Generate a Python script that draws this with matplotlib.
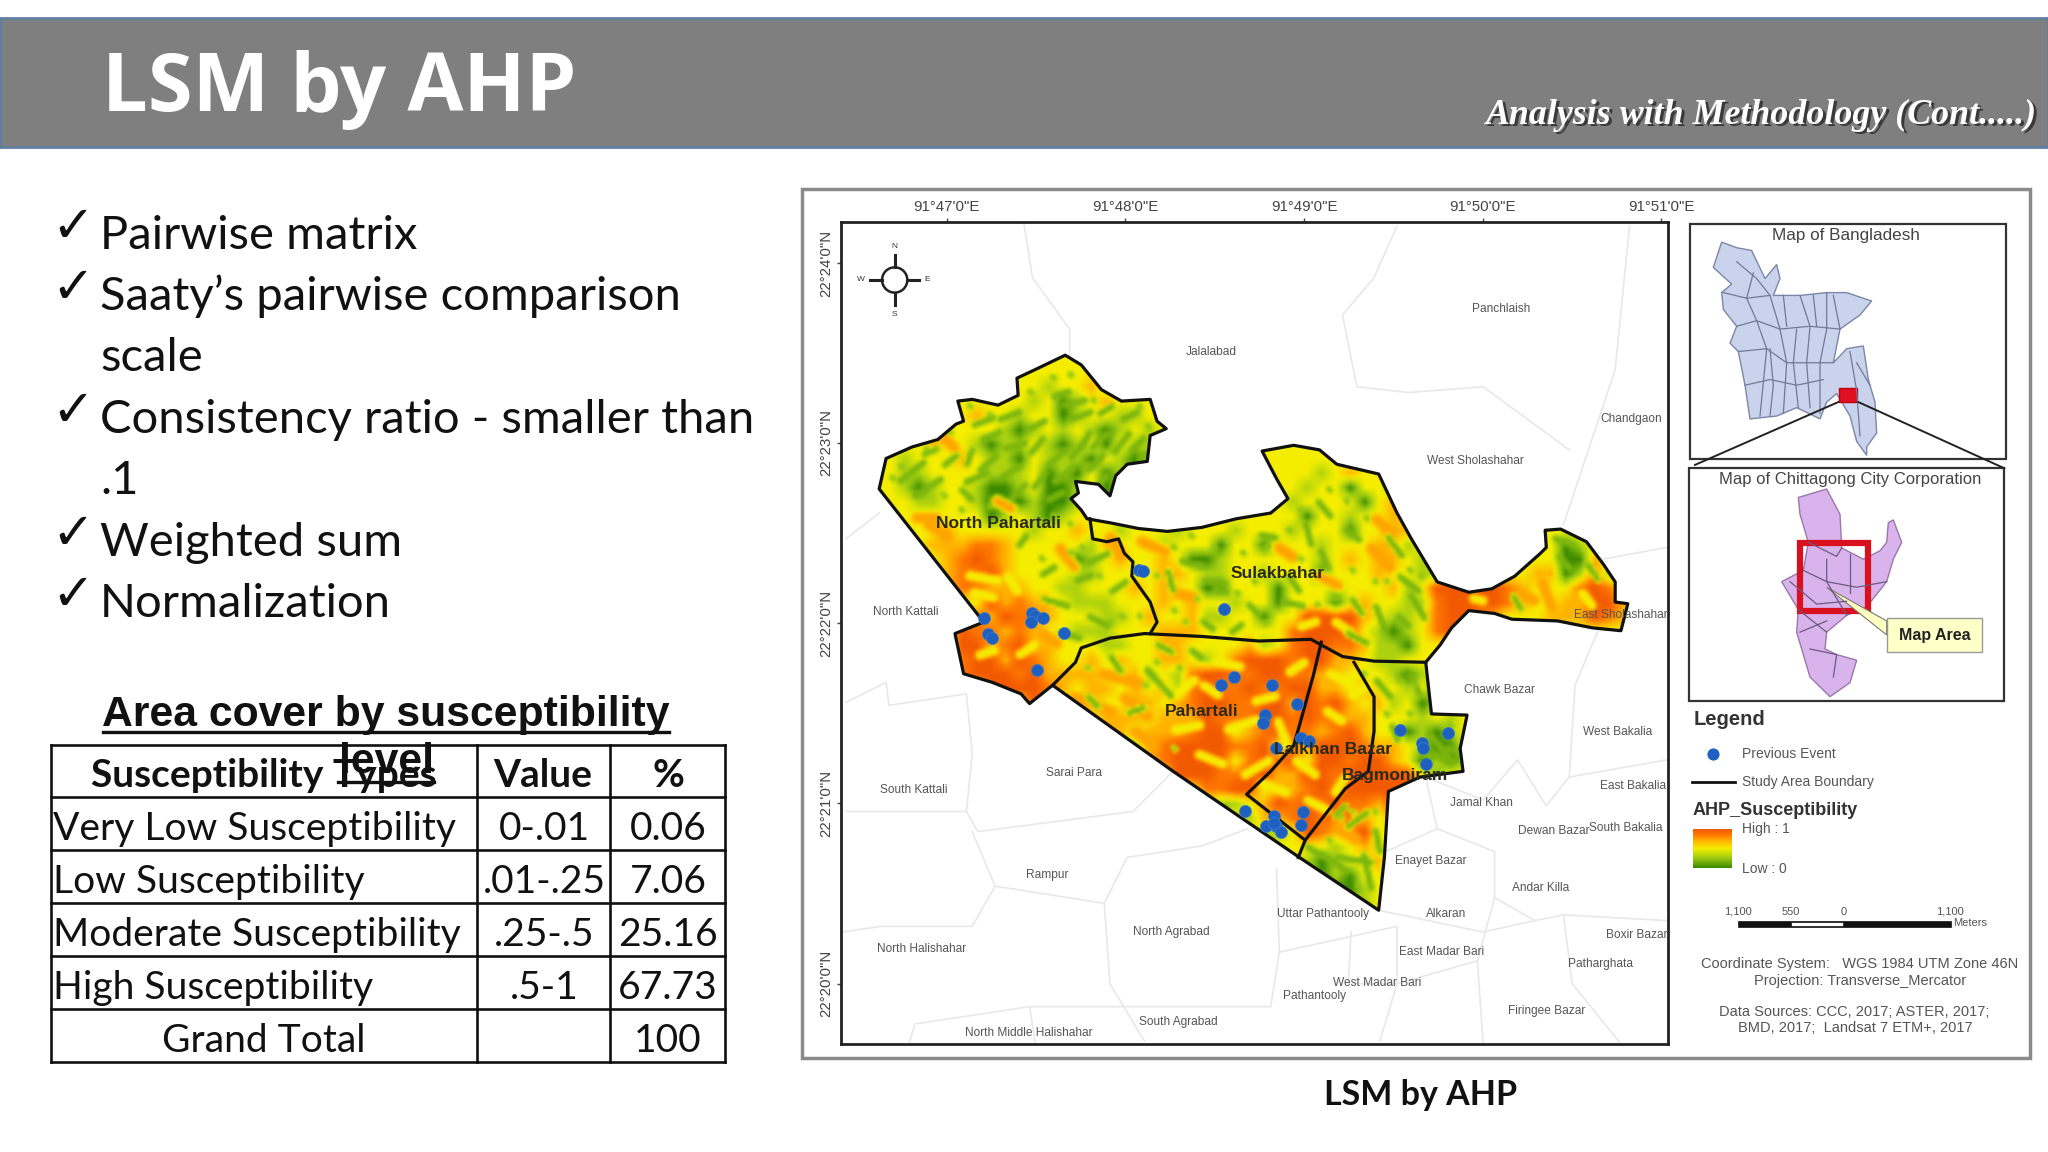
import numpy as np
import matplotlib
matplotlib.use("Agg")
import matplotlib.pyplot as plt
from matplotlib.patches import Polygon, Rectangle, Circle
from matplotlib.colors import LinearSegmentedColormap

W, H = 2048, 1152
bullets = ["Pairwise matrix", "Saaty\u2019s pairwise comparison", "scale",
           "Consistency ratio - smaller than", ".1", "Weighted sum", "Normalization"]
bullet_checked = [True, True, False, True, False, True, True]
bullet_baseline = [249, 310, 371, 433, 494, 556, 617]

table_head = ["Susceptibility Types", "Value", "%"]
table_types = ["Very Low Susceptibility", "Low Susceptibility", "Moderate Susceptibility",
               "High Susceptibility", "Grand Total"]
table_values = ["0-.01", ".01-.25", ".25-.5", ".5-1", ""]
table_pct = ["0.06", "7.06", "25.16", "67.73", "100"]
table_x = [50.5, 477, 610, 725]
table_y = [745, 797, 850, 903, 956, 1009, 1062]

lon_ticks = [256, 567, 878, 1189, 1500]
lon_labels = ['91\u00b047\'0"E', '91\u00b048\'0"E', '91\u00b049\'0"E', '91\u00b050\'0"E', '91\u00b051\'0"E']
lat_ticks = [145, 458, 772, 1086, 1400]
lat_labels = ['22\u00b024\'0"N', '22\u00b023\'0"N', '22\u00b022\'0"N', '22\u00b021\'0"N', '22\u00b020\'0"N']

boundary = [(138,538),(150,485),(195,465),(240,452),(272,425),(285,420),(275,385),(300,382),(345,392),(380,375),
            (378,345),(410,330),(462,305),(490,322),(525,365),(560,385),(610,382),(622,420),(638,433),(610,445),
            (605,490),(570,495),(550,515),(540,550),(520,530),(480,525),(485,545),(472,555),(490,575),(500,590),
            (540,597),(590,607),(640,612),(700,605),(760,590),(820,580),(850,555),(830,520),(805,472),(860,462),
            (905,470),(935,495),(1008,512),(1040,580),(1065,625),(1110,700),(1165,718),(1205,712),(1245,690),
            (1290,650),(1300,640),(1298,610),(1325,608),(1370,630),(1400,670),(1420,700),(1420,735),(1442,738),
            (1430,785),(1380,780),(1320,768),(1240,765),(1210,755),(1165,750),(1135,780),(1115,810),(1090,840),
            (1100,930),(1162,932),(1150,990),(1155,1030),(1080,1040),(1025,1065),(1018,1180),(1008,1272),(870,1180),
            (650,1030),(440,880),(400,912),(385,895),(335,875),(285,860),(270,790),(320,770)]
inner_lines = [
    [(505,590),(510,625),(535,630),(555,625),(565,650),(580,665),(578,690),(610,735),(622,770),(610,790)],
    [(440,880),(480,840),(490,815),(540,798),(600,790),(700,795),(800,803),(890,800),(945,830),(1000,838),(1090,840)],
    [(908,805),(895,860),(870,950),(860,985),(820,1030),(778,1070),(880,1150),(868,1180)],
    [(880,1150),(950,1060),(990,1030),(1000,960),(1000,900),(965,840)],
]
event_x = [320,328,335,405,410,403,424,460,413,590,597,738,733,756,822,866,810,807,872,887,830,775,826,812,830,838,876,872,1045,1083,1085,1090,1128,825]
event_y = [762,790,797,755,760,770,762,789,853,680,681,748,879,865,880,912,932,945,972,977,990,1099,1108,1126,1125,1135,1100,1124,958,980,990,1018,963,1120]

places = [("Panchlaish",1222,224),("Jalalabad",716,299),("Chandgaon",1448,416),("West Sholashahar",1177,489),
          ("North Kattali",185,752),("East Sholashahar",1430,758),("Chawk Bazar",1219,889),("West Bakalia",1424,962),
          ("Sarai Para",477,1033),("South Kattali",198,1062),("East Bakalia",1452,1056),("Jamal Khan",1187,1086),
          ("Dewan Bazar",1313,1134),("South Bakalia",1438,1128),("Enayet Bazar",1098,1186),("Rampur",431,1210),
          ("Andar Killa",1290,1233),("Uttar Pathantooly",911,1278),("Alkaran",1126,1279),("North Agrabad",646,1310),
          ("Boxir Bazar",1458,1315),("North Halishahar",211,1340),("East Madar Bari",1117,1345),("Patharghata",1394,1365),
          ("West Madar Bari",1005,1398),("Pathantooly",896,1421),("Firingee Bazar",1301,1447),("South Agrabad",659,1467),
          ("North Middle Halishahar",398,1486)]
wards = [("North Pahartali",346,598),("Sulakbahar",832,685),("Pahartali",700,926),("Lalkhan Bazar",928,992),("Bagmoniram",1037,1038)]

roads = [
    [(390,75),(405,170),(470,260),(470,305)], [(80,625),(138,580)], [(80,910),(150,875),(155,915),(290,895),(300,1000),(290,1100),(80,1100)],
    [(290,1100),(310,1135),(580,1100),(650,1030)], [(300,1135),(340,1230),(300,1300),(140,1300),(75,1310)],
    [(340,1230),(530,1260),(570,1180),(700,1160),(780,1130)], [(530,1260),(540,1400),(600,1500)],
    [(1040,80),(1000,170),(945,235),(970,360),(1060,370),(1190,360),(1340,470)], [(1445,80),(1420,330),(1330,600)],
    [(1510,640),(1400,660)], [(1390,785),(1350,880),(1340,1040),(1300,1090),(1250,1010),(1190,1080),(1090,1040)],
    [(1340,1040),(1510,1010)], [(1090,1040),(1110,1130),(1210,1170),(1210,1250),(1280,1290),(1330,1280),(1510,1290)],
    [(1020,1170),(1110,1130)], [(1008,1272),(1190,1310),(1280,1290)], [(830,1200),(835,1345),(1040,1300),(1040,1400),(1010,1500)],
    [(835,1345),(820,1440),(400,1440),(200,1470),(190,1505)], [(960,1310),(955,1400),(1040,1400),(1180,1360),(1190,1505)],
    [(1330,1280),(1345,1400),(1430,1505)], [(1210,1250),(1180,1360)], [(400,1440),(410,1505)],
]

raster_x0, raster_y0, raster_step = 120, 300, 25
raster_rows = [
 "yyyyyyyyyy yyyyyy", "yyyyyyyyyy yyyyyyoy", "yyyyyyyyyy yygyyogyyy", "yyyyyyyyyy ygyGgyoyyy yy",
 "yyyyyyyoyy gyyGgyyggy yogy", "yyyyyyyyyg GgygygGgyg yyGy", "yyyyoyygGg gygGgyGygg gyyy",
 "yygyyyoygg GygggGygGg GgyGyyyyyy y", "yyggyyyygg gyGgGyGgGg yGGyyyyyyy ygyoyy",
 "yygGgyygGG gyGGgyGgGg yyyyyyyyyy gyyGyygyy", "yyyggyygGG GgGGgyGgyy yyyyyyyyyg yyyyGyoyy",
 "yyyyyyyyGg ygGgyyyygy yyyyyyyyyy GyygyyoyoY".replace("Y","y"),
 "yyyyyoyyyy ygyyoyygyy ygyyygyyyg yyyGyyooyy yyyyyyyyyy yyyy",
 "yyyyooorro yyyyygoyyy gyyyGyyGyy ygyyyoogyg yyyyyyyyGg yyyy",
 "yyyyyorRro yyyyGgyoyy oyGGgyyyyy ygyoyooygg yyyyyyyyGG oyyy",
 "yyyyyorrRo yyyyggyyyy ooyggyygyy yGyyyoyygg yyyyyyooGg rgyy",
 "yyyyyorroo oyyggyyyoy oyyGGyyyGy yygyyyogyR RRRRroyyyr Rryy",
 "yyyyyoyyRo rooygggyyy oyoyygyyGy yyGyoyyggr RRRRroyyoo RRoy",
 "yyyyyyyroR rroyyyggyo yyoggyyGyy RRRRoyggyr RRroyyyooo Rroy",
 "yyyyyyRrro royygggyyy oooyyyyyyr RRRRygGgyr Rooyyyyyyy yyyy",
 "yyyyyyRRor Rooyyyggyy ooyyyyogyr RRrroggGyy yyyyyyyyyy yyyy",
 "yyyyyyrRRo Rroyyoyoyy ooygyrRRRr RRooyggyyy yyyyyyyyyy yyyy",
 "yyyyyyrRRR rRooooyyog ygrRRrrRRr rooyyygGgy yyyyyyyyyy yyyy",
 "yyyyyyyyRR RRroyooyoy ogrRrrRrrR RooyoyygyG yyyyyyyyyy yyyy",
 "yyyyyyyyyy yRoyooyyoo yorRRrrRRo RrRoyogyGg yyyyyyyyyy yyyy",
 "yyyyyyyyyy yyyoyyoooy oooRrrrRRr RrrooyyygY gyyyyyyyyy yyyy".replace("Y","y"),
 "yyyyyyyyyy yyyyyoooyo oorRRyorRr rorRoyyGgG gyyyyyyyyy yyyy",
 "yyyyyyyyyy yyyyygoogo rRRRRrrRyr oRRRrooygG Gyyyyyyyyy yyyy",
 "yyyyyyyyyy yyyyyyyyyo rRRRRyrRrR yRRrRRoyGg Ggyyyyyyyy yyyy",
 "yyyyyyyyyy yyyyyyyyyy yRRRrrRRoo RRrRRRRRyg yyyyyyyyyy yyyy",
 "yyyyyyyyyy yyyyyyyyyy yyyrrRRyoo rRrRRRRRyy yyyyyyyyyy yyyy",
 "yyyyyyyyyy yyyyyyyyyy yyyyggyoRr RrRrroRRRy yyyyyyyyyy yyyy",
 "yyyyyyyyyy yyyyyyyyyy yyyyyygoor RrRroyoygy yyyyyyyyyy yyyy",
 "yyyyyyyyyy yyyyyyyyyy yyyyyyyggy RrorRyyGoy yyyyyyyyyy yyyy",
 "yyyyyyyyyy yyyyyyyyyy yyyyyyyyyy yygyoyyGyy yyyyyyyyyy yyyy",
 "yyyyyyyyyy yyyyyyyyyy yyyyyyyyyy gGgyyoGyyy yyyyyyyyyy yyyy",
 "yyyyyyyyyy yyyyyyyyyy yyyyyyyyyy yGgGyyGyyy yyyyyyyyyy yyyy",
 "yyyyyyyyyy yyyyyyyyyy yyyyyyyyyy yyGGgyGyyy yyyyyyyyyy yyyy",
 "yyyyyyyyyy yyyyyyyyyy yyyyyyyyyy yyyygyGyyy yyyyyyyyyy yyyy",
 "yyyyyyyyyy yyyyyyyyyy yyyyyyyyyy yyyyyyyyyy yyyyyyyyyy yyyy",
]
raster_levels = {"G": 0.0, "g": 0.3, "y": 0.5, "o": 0.7, "r": 0.86, "R": 1.0}

green_strokes = [(300,430,340,415),(315,455,350,440),(345,420,385,405),(390,440,430,420),(440,380,470,370),(455,395,500,385),
 (470,420,510,405),(520,410,545,395),(560,420,590,405),(290,500,300,470),(310,510,345,480),(355,470,395,460),(400,480,425,450),
 (430,500,465,470),(470,490,500,450),(505,470,540,440),(545,480,575,440),(575,475,600,450),(590,490,605,478),(170,530,220,490),
 (195,555,250,520),(215,480,240,470),(250,500,275,480),(285,530,330,510),(280,540,300,560),(350,520,385,500),(365,560,395,530),
 (405,540,430,510),(440,530,480,500),(430,560,460,545),(500,510,530,480),(515,540,535,515),(490,470,505,440),
 (660,665,705,675),(700,700,745,705),(720,715,745,720),(800,620,830,625),(900,560,925,590),(950,610,975,630),(905,645,920,680),
 (850,690,870,720),(780,740,800,760),(835,735,880,745),(750,790,770,775),(640,680,650,720),(960,730,980,760),(1020,620,1050,660),
 (1040,690,1080,720),(1060,720,1090,770),(1000,740,1020,790),(950,790,990,810),(880,600,890,640),(1040,760,1060,780),(700,770,720,785),
 (420,730,470,745),(500,670,540,650),(480,700,510,690),(380,640,395,620),(540,720,570,700),(500,760,540,780),(450,790,490,800),(420,690,445,675),
 (540,830,560,860),(680,820,700,835),(600,850,650,905),(570,930,600,920),(500,900,520,920),(620,810,650,825),
 (1075,1000,1130,1010),(1090,960,1140,1020),(1000,870,1030,905),(1060,860,1080,900),(1030,950,1040,980),(1125,990,1155,1000),
 (900,1170,960,1210),(950,1130,990,1100),(980,1170,995,1240),(930,1180,1000,1190),(880,1160,910,1180),(1000,1130,1010,1175),(930,1110,950,1090),
 (1310,625,1350,640),(1320,655,1340,680),(1240,725,1255,750),(1370,670,1390,700)]
yellow_strokes = [(300,720,340,730),(290,690,350,700),(360,690,380,720),(310,830,340,820),(380,830,410,810),(650,900,690,870),(720,840,770,850),
 (740,960,800,940),(790,910,830,900),(770,1040,820,1010),(690,1000,740,1020),(860,1010,900,1040),(930,1070,950,1040),(880,1080,920,1100),
 (960,900,990,880),(920,860,960,880),(650,960,700,950),(850,860,880,840),(830,940,850,990),(915,925,945,945),(800,1050,850,1070),
 (700,880,730,900),(870,780,900,770),(930,770,960,790),(1170,730,1190,735),(1360,720,1380,745)]
orange_strokes = [(220,600,260,625),(200,590,240,590),(450,640,480,680),(420,790,450,810),(520,860,600,880),(470,900,550,930),(580,960,620,990),
 (560,900,610,940),(590,630,640,650),(650,720,690,730),(1000,590,1030,620),(990,640,1030,680),(900,690,940,710),(830,640,860,660),
 (240,440,270,470),(930,1120,970,1150),(1250,720,1280,735),(1290,700,1310,750),(340,560,370,575),(540,620,560,660)]
green_specks = [(650,640),(680,620),(720,640),(770,650),(810,640),(850,610),(870,575),(920,540),(950,560),(985,590),(960,680),(1000,700),
 (1020,700),(870,660),(790,700),(760,720),(690,730),(650,750),(620,690),(670,770),(810,770),(900,740),(930,730),(1060,680),(1080,690),(1090,640),
 (400,370),(440,345),(470,340),(510,385),(590,395),(605,430),(330,410),(295,395),(260,440),(220,470),(175,500),(160,520),(250,550),(280,575),
 (330,570),(440,585),(470,600),(490,640),(520,690),(470,650),(420,660),(560,760),(590,760),(540,770),(500,850),(620,840),(660,850),(600,880),
 (520,960),(650,990),(700,1070),(740,1090),(770,1130),(820,1150),(980,860),(1040,870),(1070,880),(1020,930),(1060,930),(1130,950),(1110,1030),
 (940,1110),(960,1100),(1000,1100),(890,1190),(920,1150),(970,1230)]

bangladesh = [(155,75),(200,85),(245,90),(285,140),(320,115),(330,140),(310,170),(390,170),(470,165),(530,165),(605,180),
              (570,205),(510,230),(490,290),(530,265),(580,260),(595,320),(615,360),(620,415),(590,440),(590,455),(560,430),
              (540,385),(500,345),(470,360),(450,390),(380,370),(320,385),(240,390),(225,330),(205,270),(180,255),(200,225),
              (160,195),(155,165),(185,150),(130,120)]
bd_lines = [[(160,165),(230,175),(300,170),(330,230),(420,225),(510,230)], [(200,225),(260,215),(330,230),(350,290),(490,290)],
            [(205,270),(290,265),(350,290),(340,380)], [(230,175),(260,215),(290,265),(270,385)], [(390,170),(420,225),(410,290),(420,370)],
            [(470,165),(470,230),(450,290),(450,380)], [(540,270),(560,340),(570,420)], [(200,110),(260,140),(300,170)],
            [(225,330),(300,320),(380,330),(460,320)], [(300,265),(310,330),(300,385)], [(380,230),(370,290),(385,370)],
            [(250,130),(230,175)], [(340,170),(350,225)], [(430,170),(440,225)], [(490,170),(510,230)], [(560,290),(600,330)]]
chittagong = [(385,530),(470,515),(510,560),(515,620),(580,640),(630,625),(650,610),(655,575),(670,570),(695,610),(670,640),(650,680),
              (590,725),(530,740),(470,770),(465,800),(500,810),(560,820),(540,860),(480,885),(420,850),(380,770),(385,730),(335,680),
              (400,660),(415,610),(390,560)]
ctg_lines = [[(415,610),(500,635),(515,620)], [(400,660),(470,680),(560,690),(650,680)], [(470,640),(470,680),(530,740)],
             [(540,630),(540,700)], [(385,730),(470,770)], [(390,770),(470,750)], [(420,800),(500,810),(490,850)], [(360,680),(440,720),(530,715)]]
scale_labels = [("1,100",205),("550",363),("0",520),("1,100",840)]

MAIN = "Lato"
ARIAL = "Liberation Sans"

fig = plt.figure(figsize=(W/100, H/100), dpi=100, facecolor="white")
s = fig.add_axes([0, 0, 1, 1]); s.set_xlim(0, W); s.set_ylim(H, 0); s.axis("off")

# header
s.add_patch(Rectangle((0, 18), W, 129, fc="#7f7f7f", ec="#5f7f9f", lw=2))
s.text(102, 111, "LSM by AHP", color="white", fontsize=58.5, fontweight="bold", family="Open Sans", va="baseline")
for dx, col in [(2.5, "#3a3a3a"), (0, "white")]:
    s.text(2037+dx, 124+dx, "Analysis with Methodology (Cont.....)", color=col, fontsize=25.8, style="italic", fontweight="bold",
           family="Liberation Serif", ha="right", va="baseline")

# bullets
for t, c, b in zip(bullets, bullet_checked, bullet_baseline):
    s.text(100, b, t, fontsize=33.9, family=MAIN, va="baseline", color="#111")
    if c:
        s.text(51, b-7, "\u2713", fontsize=37, family="DejaVu Sans", va="baseline", color="#111")

# table
s.text(386, 726, "Area cover by susceptibility", fontsize=30.8, fontweight="bold", family=ARIAL, ha="center", va="baseline", color="#111")
s.plot([103, 669], [732, 732], color="#111", lw=2.4)
for x in table_x:
    s.plot([x, x], [table_y[0], table_y[-1]], color="#111", lw=1.9)
for y in table_y:
    s.plot([table_x[0], table_x[-1]], [y, y], color="#111", lw=1.9)
for cx, t in zip([264, 543, 668], table_head):
    s.text(cx, table_y[1]-10, t, fontsize=28, fontweight="bold", family=MAIN, ha="center", va="baseline", color="#111")
s.text(386, 773, "level", fontsize=30.8, fontweight="bold", family=ARIAL, ha="center", va="baseline", color="#111")
s.plot([338, 434], [782, 782], color="#111", lw=2.4)
for i, (a, b, c) in enumerate(zip(table_types, table_values, table_pct)):
    y = table_y[i+2]-10
    if i == 4:
        s.text(264, y, a, fontsize=28.1, family=MAIN, ha="center", va="baseline", color="#111")
    else:
        s.text(53, y, a, fontsize=28.1, family=MAIN, ha="left", va="baseline", color="#111")
    s.text(544, y, b, fontsize=28.1, family=MAIN, ha="center", va="baseline", color="#111")
    s.text(668, y, c, fontsize=28.1, family=MAIN, ha="center", va="baseline", color="#111")

# map frame + caption
s.add_patch(Rectangle((802, 189), 1228, 869, fc="white", ec="#8a8a8a", lw=2.5))
s.text(1421, 1105, "LSM by AHP", fontsize=24.5, fontweight="bold", family=MAIN, ha="center", va="baseline", color="#111")

# main map
m = fig.add_axes([841.3/W, 1-1044/H, 826.7/W, 822/H])
m.set_xlim(72, 1512); m.set_ylim(1505, 73)
m.set_xticks(lon_ticks); m.set_xticklabels(lon_labels, fontsize=10.8, family=ARIAL, color="#444")
m.set_yticks(lat_ticks); m.set_yticklabels(lat_labels, fontsize=10.8, family=ARIAL, color="#444", rotation=90, va="center")
m.xaxis.tick_top()
m.tick_params(length=3, width=1, color="#444", pad=3)
for sp in m.spines.values():
    sp.set_linewidth(2); sp.set_color("#222")
for r in roads:
    m.plot(*zip(*r), color="#e8e8e8", lw=1.2, zorder=1)

# raster: coarse readings refined by the hand-read streaks and specks, softly blended
coarse = np.array([[raster_levels[c] for c in r.replace(" ", "").ljust(54, "y")] for r in raster_rows])
cell = 5
fx = np.arange(raster_x0, raster_x0+raster_step*54, cell) + cell/2
fy = np.arange(raster_y0, raster_y0+raster_step*len(raster_rows), cell) + cell/2
cx_ = raster_x0 + raster_step*(np.arange(54)+.5)
cy_ = raster_y0 + raster_step*(np.arange(len(raster_rows))+.5)
fine = np.array([np.interp(fx, cx_, row) for row in coarse])
fine = np.array([np.interp(fy, cy_, col) for col in fine.T]).T
XX, YY = np.meshgrid(fx, fy)
def blend(x1, y1, x2, y2, target, width):
    # shorten a streak slightly, then blend it softly into the raster
    mx, my = (x1+x2)/2, (y1+y2)/2
    x1, y1, x2, y2 = mx+(x1-mx)*.8, my+(y1-my)*.8, mx+(x2-mx)*.8, my+(y2-my)*.8
    dx, dy = x2-x1, y2-y1
    L = max(dx*dx+dy*dy, 1e-6)
    t = np.clip(((XX-x1)*dx+(YY-y1)*dy)/L, 0, 1)
    d = np.hypot(XX-(x1+t*dx), YY-(y1+t*dy))
    w = np.exp(-(d/width)**4)
    fine[:] = fine*(1-w) + target*w
for st in orange_strokes:
    blend(*st, .74, 11)
for st in yellow_strokes:
    blend(*st, .5, 9)
for st in green_strokes:
    blend(*st, .17, 6.5)
for x, y in green_specks:
    blend(x, y, x+3, y+3, .22, 5.5)

cmap = LinearSegmentedColormap.from_list("susc", [(0, "#3c8a00"), (.25, "#9ccb12"), (.5, "#f5ee00"), (.7, "#ffb400"), (.85, "#ff7a00"), (1, "#f25a00")])
im = m.imshow(fine, cmap=cmap, vmin=0, vmax=1, interpolation="bicubic", aspect="auto", zorder=2,
              extent=[raster_x0, raster_x0+raster_step*54, raster_y0+raster_step*len(raster_rows), raster_y0])
m.set_xlim(72, 1512); m.set_ylim(1505, 73)
poly = Polygon(boundary, closed=True, transform=m.transData, fc="none", ec="none")
m.add_patch(poly); im.set_clip_path(poly)
m.add_patch(Polygon(boundary, closed=True, fc="none", ec="#111", lw=2.3, zorder=4, joinstyle="round"))
for l in inner_lines:
    m.plot(*zip(*l), color="#111", lw=2.3, zorder=4)
m.scatter(event_x, event_y, s=75, c="#1f5fc0", ec="#3a7fd0", lw=.5, zorder=5)
for t, x, y in places:
    m.text(x, y, t, fontsize=8.6, family=ARIAL, color="#555", ha="center", va="center", zorder=6)
for t, x, y in wards:
    m.text(x, y, t, fontsize=12.5, fontweight="bold", family=ARIAL, color="#2a2a1a", ha="center", va="center", zorder=6)
# compass
m.add_patch(Circle((165, 174), 22, fc="white", ec="#222", lw=1.8, zorder=6))
for a, b in [((165,130),(165,152)), ((165,196),(165,218)), ((122,174),(143,174)), ((187,174),(208,174))]:
    m.plot(*zip(a, b), color="#222", lw=2.2, zorder=6)
for t, x, y in [("N",165,115),("S",165,235),("W",107,174),("E",222,174)]:
    m.text(x, y, t, fontsize=6, family=ARIAL, color="#333", ha="center", va="center")

# right panel
p = fig.add_axes([1670/W, 1-1080/H, 378/W, 880/H]); p.set_xlim(0, 1134); p.set_ylim(1568, 0); p.axis("off"); p.patch.set_alpha(0)
p.add_patch(Rectangle((60, 42), 948, 420, fc="white", ec="#333", lw=1.6))
p.add_patch(Rectangle((58, 478), 945, 414, fc="white", ec="#333", lw=1.6))
p.text(527, 64, "Map of Bangladesh", fontsize=12.3, family=ARIAL, ha="center", va="center", color="#444")
p.text(540, 498, "Map of Chittagong City Corporation", fontsize=12, family=ARIAL, ha="center", va="center", color="#444")
p.add_patch(Polygon(bangladesh, closed=True, fc="#c9d3ec", ec="#7b87a6", lw=1))
for l in bd_lines:
    p.plot(*zip(*l), color="#6f7a98", lw=.9)
p.add_patch(Rectangle((508, 335), 54, 25, fc="#e01020", ec="#c00010", lw=1))
p.plot([505, 75], [360, 472], color="#222", lw=1.4)
p.plot([565, 1003], [360, 478], color="#222", lw=1.4)
p.add_patch(Polygon(chittagong, closed=True, fc="#d9b4ec", ec="#9a78aa", lw=1))
for l in ctg_lines:
    p.plot(*zip(*l), color="#6b5a80", lw=.9)
p.add_patch(Rectangle((390, 612), 205, 121, fc="none", ec="#d81020", lw=4.5))
p.add_patch(Polygon([(470, 690), (650, 750), (650, 775)], closed=True, fc="#ffffc0", ec="#777", lw=.8))
p.add_patch(Rectangle((650, 745), 285, 60, fc="#ffffc8", ec="#999", lw=1))
p.text(793, 776, "Map Area", fontsize=11.5, fontweight="bold", family=ARIAL, ha="center", va="center", color="#222")
p.text(70, 925, "Legend", fontsize=14.5, fontweight="bold", family=ARIAL, va="center", color="#333")
p.scatter([128], [987], s=60, c="#1f5fc0")
p.text(215, 987, "Previous Event", fontsize=10, family=ARIAL, va="center", color="#555")
p.plot([65, 195], [1037, 1037], color="#111", lw=2)
p.text(215, 1037, "Study Area Boundary", fontsize=10, family=ARIAL, va="center", color="#555")
p.text(68, 1088, "AHP_Susceptibility", fontsize=13, fontweight="bold", family=ARIAL, va="center", color="#333")
p.imshow(np.linspace(1, 0, 64).reshape(-1, 1), cmap=cmap, aspect="auto", extent=[68, 185, 1190, 1122], vmin=0, vmax=1)
p.set_xlim(0, 1134); p.set_ylim(1568, 0)
p.text(215, 1120, "High : 1", fontsize=10, family=ARIAL, va="center", color="#555")
p.text(215, 1192, "Low : 0", fontsize=10, family=ARIAL, va="center", color="#555")
for t, x in scale_labels:
    p.text(x, 1268, t, fontsize=8, family=ARIAL, ha="center", va="center", color="#555")
p.text(848, 1288, "Meters", fontsize=8, family=ARIAL, va="center", color="#555")
p.add_patch(Rectangle((203, 1284), 640, 12, fc="#111", ec="#111", lw=.5))
p.add_patch(Rectangle((363, 1287), 157, 7, fc="white", ec="#111", lw=.5))
for t, x, y in [("Coordinate System:   WGS 1984 UTM Zone 46N", 570, 1362), ("Projection: Transverse_Mercator", 570, 1392),
                ("Data Sources: CCC, 2017; ASTER, 2017;", 552, 1446), ("BMD, 2017;  Landsat 7 ETM+, 2017", 555, 1476)]:
    p.text(x, y, t, fontsize=10.5, family=ARIAL, ha="center", va="center", color="#555")

fig.savefig("out.png", dpi=100, facecolor="white")
